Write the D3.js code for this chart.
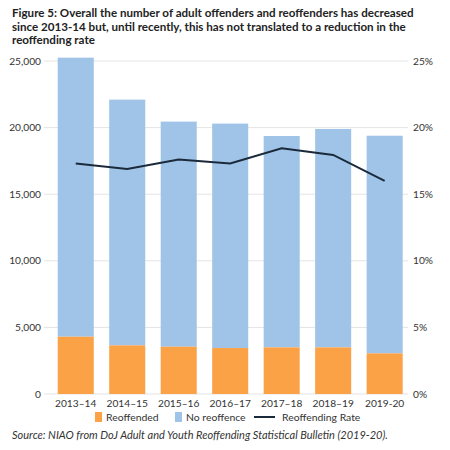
<!DOCTYPE html>
<html>
<head>
<meta charset="utf-8">
<script src="https://cdn.jsdelivr.net/npm/d3@7"></script>
<style>
  body { margin: 0; background: #fff; }
  svg { font-family: Lato, "Open Sans", sans-serif; }
</style>
</head>
<body>
<div id="chart"></div>
<script>
const years = ["2013–14", "2014–15", "2015–16", "2016–17", "2017–18", "2018–19", "2019-20"];
const reoffended = [4300, 3650, 3550, 3450, 3500, 3500, 3050];
const totals = [25250, 22100, 20450, 20300, 19370, 19900, 19390];
const rate = [17.3, 16.9, 17.6, 17.3, 18.45, 17.95, 16.0];
const leftTicks = [0, 5000, 10000, 15000, 20000, 25000];
const rightTicks = [0, 5, 10, 15, 20, 25];
const titleLines = [
    "Figure 5: Overall the number of adult offenders and reoffenders has decreased",
    "since 2013-14 but, until recently, this has not translated to a reduction in the",
    "reoffending rate"
];

const width = 450, height = 450;
const orange = "#fba146", blue = "#9fc4e7", navy = "#1b2a3b";

const svg = d3.select("#chart").append("svg")
    .attr("width", width)
    .attr("height", height);

// title
svg.append("text")
    .attr("x", 12)
    .attr("y", 17)
    .attr("font-size", 11.6)
    .attr("font-weight", "bold")
    .attr("fill", "#222")
    .selectAll("tspan")
    .data(titleLines)
    .enter().append("tspan")
    .attr("x", 12)
    .attr("dy", (d, i) => i === 0 ? 0 : 13.5)
    .text(d => d);

const x = d3.scaleBand()
    .domain(years)
    .range([50, 410.4])
    .paddingInner(0.3)
    .paddingOuter(0.15);

const y = d3.scaleLinear().domain([0, 25000]).range([394, 61]);
const yr = d3.scaleLinear().domain([0, 25]).range([394, 61]);

// gridlines
svg.append("g")
    .selectAll("line")
    .data(leftTicks)
    .enter().append("line")
    .attr("x1", 44)
    .attr("x2", 408)
    .attr("y1", d => y(d))
    .attr("y2", d => y(d))
    .attr("stroke", "#e4e4e4")
    .attr("stroke-width", 1);

// left axis labels
svg.append("g")
    .selectAll("text")
    .data(leftTicks)
    .enter().append("text")
    .attr("x", 41)
    .attr("y", d => y(d) + 3.5)
    .attr("text-anchor", "end")
    .attr("font-size", 10.2)
    .attr("fill", "#333")
    .text(d => d3.format(",")(d));

// right axis labels
svg.append("g")
    .selectAll("text")
    .data(rightTicks)
    .enter().append("text")
    .attr("x", 413)
    .attr("y", d => yr(d) + 3.5)
    .attr("font-size", 10.2)
    .attr("fill", "#333")
    .text(d => d + "%");

// bars: total (no reoffence on top) then reoffended
svg.append("g")
    .selectAll("rect")
    .data(years)
    .enter().append("rect")
    .attr("x", d => x(d))
    .attr("width", x.bandwidth())
    .attr("y", (d, i) => y(totals[i]))
    .attr("height", (d, i) => y(reoffended[i]) - y(totals[i]))
    .attr("fill", blue);

svg.append("g")
    .selectAll("rect")
    .data(years)
    .enter().append("rect")
    .attr("x", d => x(d))
    .attr("width", x.bandwidth())
    .attr("y", (d, i) => y(reoffended[i]))
    .attr("height", (d, i) => y(0) - y(reoffended[i]))
    .attr("fill", orange);

// reoffending rate line
const line = d3.line()
    .x((d, i) => x(years[i]) + x.bandwidth() / 2)
    .y(d => yr(d));

svg.append("path")
    .datum(rate)
    .attr("d", line)
    .attr("fill", "none")
    .attr("stroke", navy)
    .attr("stroke-width", 2);

// x labels
svg.append("g")
    .selectAll("text")
    .data(years)
    .enter().append("text")
    .attr("x", d => x(d) + x.bandwidth() / 2)
    .attr("y", 407)
    .attr("text-anchor", "middle")
    .attr("font-size", 10.2)
    .attr("fill", "#333")
    .text(d => d);

// legend
const legend = svg.append("g").attr("font-size", 10.4).attr("fill", "#333");
legend.append("rect").attr("x", 95).attr("y", 412).attr("width", 7).attr("height", 10).attr("fill", orange);
legend.append("text").attr("x", 106).attr("y", 421).text("Reoffended");
legend.append("rect").attr("x", 175).attr("y", 412).attr("width", 7).attr("height", 10).attr("fill", blue);
legend.append("text").attr("x", 186).attr("y", 421).text("No reoffence");
legend.append("line").attr("x1", 254).attr("x2", 275).attr("y1", 417).attr("y2", 417)
    .attr("stroke", navy).attr("stroke-width", 2);
legend.append("text").attr("x", 282).attr("y", 421).text("Reoffending Rate");

// source
svg.append("text")
    .attr("x", 12)
    .attr("y", 439)
    .attr("font-size", 11)
    .attr("font-style", "italic")
    .attr("fill", "#333")
    .text("Source: NIAO from DoJ Adult and Youth Reoffending Statistical Bulletin (2019-20).");
</script>
</body>
</html>
